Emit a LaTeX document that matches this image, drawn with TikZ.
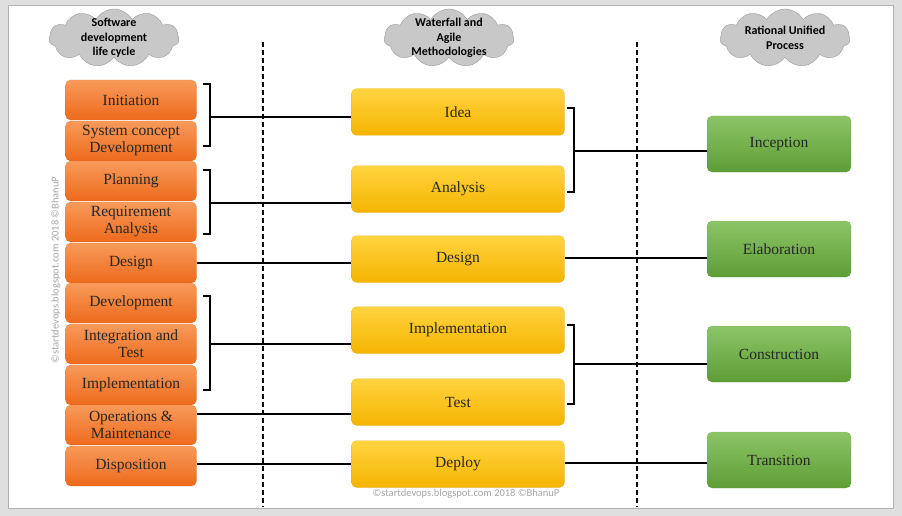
\documentclass[tikz,border=0pt]{standalone}
\usepackage{fontspec}
\setmainfont{Liberation Serif}
\newfontfamily\cloudfont{Carlito}
\usetikzlibrary{shapes.symbols}
\definecolor{orT}{HTML}{F79A5A}\definecolor{orB}{HTML}{EE6A1C}
\definecolor{yeT}{HTML}{FFD440}\definecolor{yeB}{HTML}{F5B400}
\definecolor{grT}{HTML}{8CC466}\definecolor{grB}{HTML}{5E9E36}
\definecolor{cl}{HTML}{C8C8C8}
\begin{document}
\begin{tikzpicture}[x=1pt,y=-1pt,
 box/.style={rounded corners=5pt,inner sep=1pt,align=center,font=\fontsize{15.5}{17}\selectfont,text=black!85},
 org/.style={box,top color=orT,bottom color=orB,draw=orB!80!black,draw opacity=.3,minimum width=131pt,minimum height=40pt},
 yel/.style={box,top color=yeT,bottom color=yeB,draw=yeB!80!black,draw opacity=.3,minimum width=213pt,minimum height=47pt},
 grn/.style={box,top color=grT,bottom color=grB,draw=grB!80!black,draw opacity=.3,minimum width=144pt,minimum height=56pt},
 cld/.style={cloud,cloud puffs=11,cloud puff arc=120,aspect=2.3,fill=cl,draw=gray!80,minimum width=130pt,minimum height=58pt,inner sep=0pt},
 ctxt/.style={align=center,inner sep=0pt,font=\cloudfont\bfseries\fontsize{12}{14.5}\selectfont},
 con/.style={line width=2.2pt},
 brk/.style={line width=1.1pt}]
\fill[gray!25] (0,0) rectangle (902,516);
\fill[white,draw=gray!60] (8,5) rectangle (893,508);
\node[cld] (c1) at (114,38) {};
\node[cld] (c2) at (449,38) {};
\node[cld] (c3) at (785,38) {};
\node[ctxt] (t1) at (c1) {Software\\development\\life cycle};
\node[ctxt] (t2) at (c2) {Waterfall and\\Agile\\Methodologies};
\node[ctxt] (t3) at (c3) {Rational Unified\\Process};
\coordinate (d1t) at (263,42); \coordinate (d1b) at (263,507);
\coordinate (d2t) at (637,42); \coordinate (d2b) at (637,507);
\draw[line width=1.2pt,dash pattern=on 5pt off 3pt] (d1t)--(d1b);
\draw[line width=1.2pt,dash pattern=on 5pt off 3pt] (d2t)--(d2b);
\node[org] (o1) at (131,100) {Initiation};
\node[org] (o2) at (131,141) {System concept\\Development};
\node[org] (o3) at (131,181) {Planning};
\node[org] (o4) at (131,222) {Requirement\\Analysis};
\node[org] (o5) at (131,263) {Design};
\node[org] (o6) at (131,303) {Development};
\node[org] (o7) at (131,344) {Integration and\\Test};
\node[org] (o8) at (131,385) {Implementation};
\node[org] (o9) at (131,425) {Operations \&\\Maintenance};
\node[org] (o10) at (131,466) {Disposition};
\node[yel] (y1) at (458,112) {Idea};
\node[yel] (y2) at (458,189) {Analysis};
\node[yel] (y3) at (458,259) {Design};
\node[yel] (y4) at (458,330) {Implementation};
\node[yel] (y5) at (458,402) {Test};
\node[yel] (y6) at (458,464) {Deploy};
\node[grn] (g1) at (779,144) {Inception};
\node[grn] (g2) at (779,249) {Elaboration};
\node[grn] (g3) at (779,354) {Construction};
\node[grn] (g4) at (779,460) {Transition};
\coordinate (b1) at (210,117); \coordinate (b2) at (210,203); \coordinate (b3) at (210,344);
\draw[brk] (203,84)--(210,84)--(210,146)--(203,146);
\draw[brk] (203,170)--(210,170)--(210,234)--(203,234);
\draw[brk] (203,296)--(210,296)--(210,390)--(203,390);
\draw[con] (b1)--(y1.west|-b1);
\draw[con] (b2)--(y2.west|-b2);
\draw[con] (b3)--(y4.west|-b3);
\draw[con] (o5.east)--(y3.west|-o5.east);
\draw[con] (o9.east|-0,414)--(y5.west|-0,414);
\draw[con] (o10.east|-0,464)--(y6.west);
\coordinate (r1) at (574,151); \coordinate (r2) at (574,364);
\draw[brk] (567,108)--(574,108)--(574,192)--(567,192);
\draw[brk] (567,325)--(574,325)--(574,404)--(567,404);
\draw[con] (r1)--(g1.west|-r1);
\draw[con] (r2)--(g3.west|-r2);
\draw[con] (y3.east|-0,258)--(g2.west|-0,258);
\draw[con] (y6.east|-0,463)--(g4.west|-0,463);
\node[rotate=90,text=gray!70,font=\cloudfont\fontsize{10.5}{10.5}\selectfont] (wm) at (56,270) {©startdevops.blogspot.com 2018 ©BhanuP};
\node[text=gray!70,font=\cloudfont\fontsize{10.5}{10.5}\selectfont] (wm2) at (466,494) {©startdevops.blogspot.com 2018 ©BhanuP};
\end{tikzpicture}
\end{document}
